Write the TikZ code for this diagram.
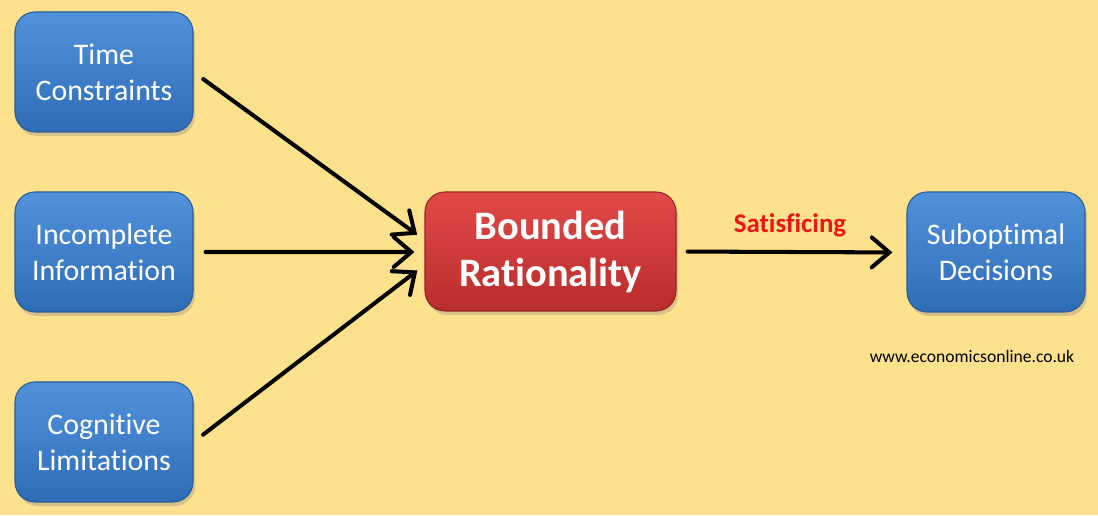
\documentclass[tikz,border=0pt]{standalone}
\usepackage{fontspec}
\setmainfont{Carlito}[Ligatures=NoCommon]
\usetikzlibrary{arrows.meta,shadows}
\definecolor{bgyellow}{RGB}{253,225,140}
\definecolor{bluetop}{RGB}{82,146,220}
\definecolor{bluebot}{RGB}{46,108,182}
\definecolor{blueline}{RGB}{40,92,156}
\definecolor{redtop}{RGB}{226,74,72}
\definecolor{redbot}{RGB}{184,44,44}
\definecolor{redline}{RGB}{150,34,34}
\definecolor{satred}{RGB}{236,20,20}
\tikzset{
    bluebox/.style={rectangle, rounded corners=0.4cm, draw=blueline, line width=0.6pt,
        top color=bluetop, bottom color=bluebot, minimum width=3.56cm, minimum height=2.4cm,
        text=white, align=center, font=\fontsize{17}{20.5}\selectfont,
        drop shadow={opacity=0.3, shadow xshift=0.04cm, shadow yshift=-0.08cm}},
    redbox/.style={bluebox, draw=redline, top color=redtop, bottom color=redbot,
        minimum width=5.02cm, minimum height=2.38cm, font=\fontsize{23}{27}\selectfont\bfseries},
    flow/.style={line width=2.3pt, line cap=round,
        -{Straight Barb[length=10pt,width=17pt,line cap=round]}}
}
\begin{document}
\begin{tikzpicture}
    \fill[bgyellow] (0,0) rectangle (21.96,10.3);
    \useasboundingbox (0,0) rectangle (21.96,10.3);

    \node (tc) [bluebox] at (2.08cm, 8.86cm) {Time\\Constraints};
    \node (ii) [bluebox] at (2.08cm, 5.26cm) {Incomplete\\Information};
    \node (cl) [bluebox] at (2.08cm, 1.46cm) {Cognitive\\Limitations};
    \node (br) [redbox, text depth=0.1cm] at (11.01cm, 5.27cm) {Bounded\\Rationality};
    \node (sd) [bluebox] at (19.92cm, 5.26cm) {Suboptimal\\Decisions};

    \node (sat) [text=satred, font=\fontsize{15.3}{18}\selectfont\bfseries] at (15.8cm, 5.8cm) {Satisficing};
    \node (url) [font=\fontsize{10}{12}\selectfont] at (19.44cm, 3.18cm) {www.economicsonline.co.uk};

    \draw[flow, shorten <=0.24cm, shorten >=0.18cm] (tc.east) -- ([yshift=0.23cm]br.west);
    \draw[flow, shorten <=0.24cm, shorten >=0.2cm] (ii.east) -- ([yshift=-0.01cm]br.west);
    \draw[flow, shorten <=0.24cm, shorten >=0.18cm] (cl.east) -- ([yshift=-0.27cm]br.west);
    \draw[flow, shorten <=0.22cm, shorten >=0.28cm] (br.east) -- ([yshift=-0.01cm]sd.west);
\end{tikzpicture}
\end{document}
